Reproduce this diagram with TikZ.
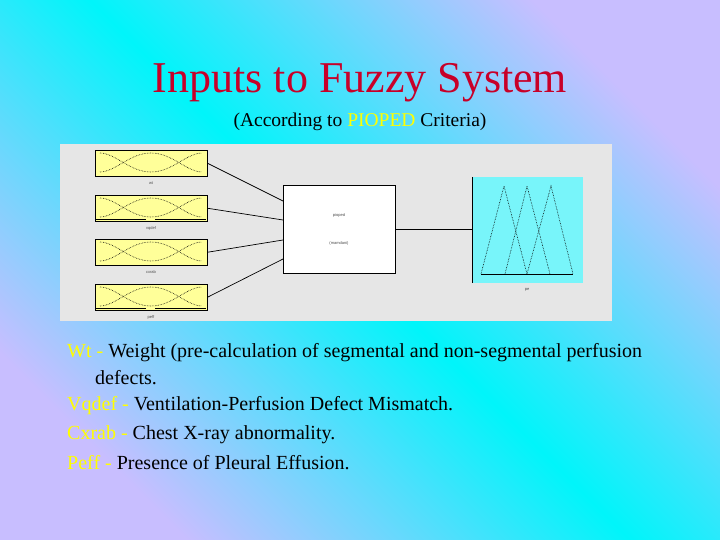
\documentclass[tikz,border=0pt]{standalone}
\usepackage{fontspec}
\setmainfont{Liberation Serif}
\newfontfamily\smallsans{Liberation Sans}
\definecolor{lav}{RGB}{200,190,255}
\definecolor{cy}{RGB}{0,245,250}
\definecolor{panel}{RGB}{230,230,230}
\definecolor{yel}{RGB}{255,255,153}
\definecolor{outc}{RGB}{120,245,250}
\definecolor{lab}{RGB}{255,255,0}
\definecolor{ttl}{RGB}{200,0,40}
\begin{document}
\begin{tikzpicture}[x=1pt,y=-1pt,
  inbox/.style={draw=black,fill=yel,line width=0.5pt},
  mf/.style={densely dotted,line width=0.6pt},
  tiny/.style={font=\smallsans\fontsize{4}{5}\selectfont,text=black!70},
  body/.style={font=\fontsize{20}{24}\selectfont,anchor=west,inner sep=0pt},
  conn/.style={line width=0.7pt}]
\useasboundingbox (0,0) rectangle (720,540);
\shade[shading=axis,top color=lav,bottom color=lav,middle color=cy,shading angle=135] (0,0) rectangle (720,540);
\node[text=ttl] (title) at (360,83) {\fontsize{44}{48}\selectfont Inputs to Fuzzy System};
\node (sub) at (360,122) {\fontsize{19.5}{22}\selectfont (According to \textcolor{lab}{PIOPED} Criteria)};
\fill[panel] (60,144) rectangle (612,321);
\foreach \i/\t/\l in {1/150/wt,2/195/vqdef,3/239/cxrab,4/284/peff}{
  \node[inbox,minimum width=112pt,minimum height=26pt,inner sep=0pt,anchor=north west] (b\i) at (95,\t) {};
  \draw[mf] (100,\t+22) .. controls (115,\t+22) and (130,\t+3) .. (151,\t+3) .. controls (172,\t+3) and (187,\t+22) .. (202,\t+22);
  \draw[mf] (100,\t+3) .. controls (115,\t+3) and (130,\t+22) .. (151,\t+22) .. controls (172,\t+22) and (187,\t+3) .. (202,\t+3);
  \node[tiny] (lb\i) at (151,\t+33) {\l};
}
\draw[line width=0.6pt] (96,219) -- (146,219) (155,219) -- (206,219);
\draw[line width=0.6pt] (96,308) -- (146,308) (155,308) -- (206,308);
\node[draw=black,fill=white,minimum width=112pt,minimum height=88pt,inner sep=0pt,anchor=north west] (fis) at (283,185) {};
\node[tiny] (fn) at (339,215) {pioped};
\node[tiny] (fm) at (339,243) {(mamdani)};
\coordinate (f1) at (283,201); \coordinate (f2) at (283,220);
\coordinate (f3) at (283,240); \coordinate (f4) at (283,259);
\draw[conn] (b1.east) -- (f1);
\draw[conn] (b2.east) -- (f2);
\draw[conn] (b3.east) -- (f3);
\draw[conn] (b4.east) -- (f4);
\node[fill=outc,minimum width=111pt,minimum height=106pt,inner sep=0pt,anchor=north west] (out) at (472,177) {};
\draw[line width=0.7pt] (out.north west) -- (out.south west);
\draw[conn] (fis.east) -- (fis.east -| out.west);
\draw[line width=0.6pt] (481,274) -- (573,274);
\draw[mf] (481,274) -- (504,186) -- (527,274);
\draw[mf] (505,274) -- (527,186) -- (550,274);
\draw[mf] (527,274) -- (551,186) -- (573,274);
\node[tiny] (po) at (527,290) {pe};
\node[body] (l1) at (67,353) {\textcolor{lab}{Wt -} Weight (pre-calculation of segmental and non-segmental perfusion};
\node[body] (l1b) at (95,378) {defects.};
\node[body] (l2) at (67,406) {\textcolor{lab}{Vqdef -} Ventilation-Perfusion Defect Mismatch.};
\node[body] (l3) at (67,435) {\textcolor{lab}{Cxrab -} Chest X-ray abnormality.};
\node[body] (l4) at (67,463) {\textcolor{lab}{Peff -} Presence of Pleural Effusion.};
\end{tikzpicture}
\end{document}
